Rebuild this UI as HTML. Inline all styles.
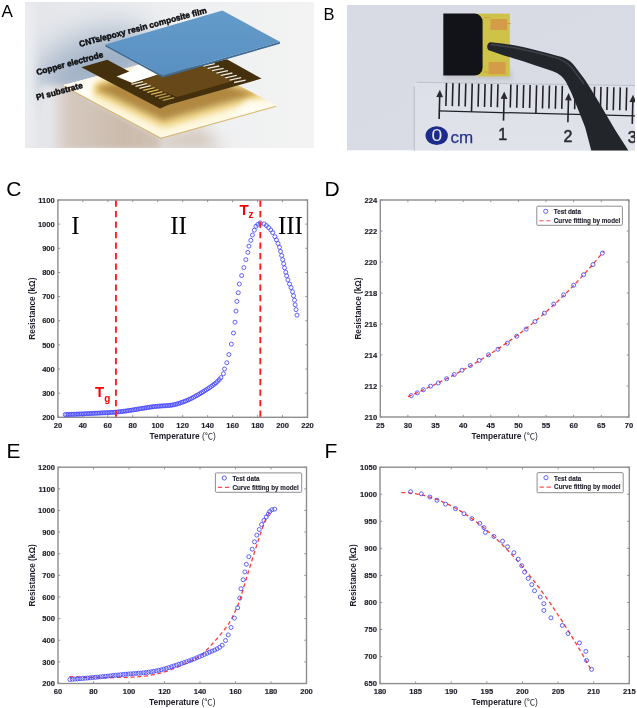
<!DOCTYPE html>
<html><head><meta charset="utf-8"><title>Figure</title>
<style>
html,body{margin:0;padding:0;background:#fff;}
#fig{position:relative;width:637px;height:708px;overflow:hidden;background:#fff;}
svg{position:absolute;left:0;top:0;}
.tl{font-family:"Liberation Sans",Arial,sans-serif;font-weight:bold;font-size:7.6px;fill:#1e1e2a;stroke:#1e1e2a;stroke-width:0.15px;}
.ar{font-family:"Liberation Sans",Arial,sans-serif;font-weight:bold;font-size:8.2px;fill:#1e1e2a;}
.at{font-family:"Liberation Sans",Arial,sans-serif;font-weight:bold;font-size:8.4px;fill:#1e1e2a;}
.deg{font-family:"Liberation Sans","Noto Sans CJK SC",sans-serif;font-weight:normal;}
.lg{font-family:"Liberation Sans",Arial,sans-serif;font-weight:bold;font-size:6.3px;fill:#1e1e2a;stroke:#1e1e2a;stroke-width:0.12px;}
.fit{fill:none;stroke:#ff3a3a;stroke-width:1.3;stroke-dasharray:4 2.8;}
.vl{fill:none;stroke:#ff1e1e;stroke-width:1.9;stroke-dasharray:6.2 4.3;}
.tz{font-family:"Liberation Sans",Arial,sans-serif;font-weight:bold;font-size:15px;fill:#ff0000;}
.tzs{font-size:10px;}
.rn{font-family:"Liberation Serif","Times New Roman",serif;font-size:25px;fill:#000;}
.la{font-family:"Liberation Sans",Arial,sans-serif;font-weight:bold;font-size:8.4px;fill:#0d0d10;stroke:#0d0d10;stroke-width:0.45px;}
.rz{font-family:"Liberation Sans",Arial,sans-serif;font-size:15.8px;fill:#e4e6f2;}
.rc{font-family:"Liberation Sans",Arial,sans-serif;font-size:17px;fill:#28338f;stroke:#28338f;stroke-width:0.25px;}
.rn1{font-family:"Liberation Sans",Arial,sans-serif;font-size:16px;fill:#2a2a2e;stroke:#2a2a2e;stroke-width:0.5px;}
.pl{font-family:"Liberation Sans",Arial,sans-serif;font-size:21px;fill:#000;}
</style></head><body>
<div id="fig">
<svg width="637" height="708" viewBox="0 0 637 708">
<defs>
<clipPath id="clipA"><rect x="25" y="2" width="289" height="146"/></clipPath>
<clipPath id="clipSub"><polygon points="63.9,85.1 178.9,54 276,105 161,137"/></clipPath>
<filter id="blA8" x="-50%" y="-50%" width="200%" height="200%"><feGaussianBlur stdDeviation="8"/></filter>
<filter id="blA5" x="-50%" y="-50%" width="200%" height="200%"><feGaussianBlur stdDeviation="5"/></filter>
<filter id="blA3" x="-50%" y="-50%" width="200%" height="200%"><feGaussianBlur stdDeviation="3"/></filter>
<filter id="blA14" x="-50%" y="-50%" width="200%" height="200%"><feGaussianBlur stdDeviation="14"/></filter>
<linearGradient id="gBlue" x1="0" y1="0" x2="0" y2="1" gradientUnits="objectBoundingBox">
<stop offset="0" stop-color="#639bca"/><stop offset="1" stop-color="#5990c2"/></linearGradient>
<linearGradient id="gBg" x1="0" y1="0" x2="1" y2="0">
<stop offset="0" stop-color="#e2e4e9"/><stop offset="0.45" stop-color="#eceef0"/><stop offset="1" stop-color="#f3f3f3"/></linearGradient>
</defs>
<g clip-path="url(#clipA)">
<rect x="25" y="2" width="289" height="146" fill="url(#gBg)"/>
<!-- blue-grey shade left-middle -->
<ellipse cx="92" cy="62" rx="62" ry="30" fill="#aebccd" filter="url(#blA14)" transform="rotate(-22 92 62)"/>
<polygon points="52,86 80,60 120,45 178,40 178,56 64,86" fill="#9fb0c5" filter="url(#blA8)"/>
<rect x="20" y="0" width="14" height="150" fill="#eceef1" filter="url(#blA5)"/>
<!-- tan shade below substrate -->
<linearGradient id="gTan" x1="50" y1="0" x2="170" y2="0" gradientUnits="userSpaceOnUse">
<stop offset="0" stop-color="#e6e6ea"/><stop offset="0.15" stop-color="#d5c9bf"/><stop offset="0.6" stop-color="#cbbbac"/><stop offset="1" stop-color="#d0c1b4"/></linearGradient>
<path d="M63.9 85.1 L161 137 L161 150 L40 150 L40 86 Z" fill="url(#gTan)" filter="url(#blA3)"/>
<path d="M158 137 L200 126 L225 150 L156 150 Z" fill="#d3c7bc" filter="url(#blA8)"/>
<!-- PI substrate -->
<polygon points="63.9,85.1 178.9,54 276,105 161,137" fill="#fdf8e9"/>
<g clip-path="url(#clipSub)">
<polygon points="92,88 168,64 260,94 165,123" fill="none" stroke="#eecd68" stroke-width="9" filter="url(#blA5)"/>
<polygon points="94,88 168,66 257,94 163,121" fill="#b08841" filter="url(#blA3)"/>
<path d="M63.9 85.1 L161 137 L276 105" fill="none" stroke="#fff2c0" stroke-width="4" filter="url(#blA3)"/>
<polygon points="58,84 96,75 90,104 62,90" fill="#fffef8" filter="url(#blA3)"/>
<path d="M75 96 L160 136 L272 105" fill="none" stroke="#fffae8" stroke-width="5" filter="url(#blA3)"/>
<path d="M63.9 85.1 L178.9 54" fill="none" stroke="#fffaf0" stroke-width="5" filter="url(#blA3)"/>
<polygon points="248,100 280,104 250,122 225,124" fill="#fffcf0" filter="url(#blA3)"/>
</g>
<path d="M63.9 85.1 L161 137 L276 105" fill="none" stroke="#fffbe6" stroke-width="1"/>
<path d="M63.9 86.4 L161 138.4 L276 106.3" fill="none" stroke="#d9b667" stroke-width="1"/>
<!-- copper electrode -->
<polygon points="116.5,76.4 129.1,71.4 138.5,64.3 157.7,74.7 131.9,83" fill="#fefefc"/>
<polygon points="81.3,67.3 107.2,59.7 129.2,71.5 116.5,76.4 131.9,83 157.7,74.7 226.9,59.2 261.5,78.6 249.9,81.9 168,105 160,108.5" fill="#44300c"/>
<polygon points="140,82 157.7,74.7 203,65 233,81 177,97" fill="#674818"/>
<path d="M131.6 84.4l11.3-2.8M135.5 86.4l11.3-2.8M139.4 88.4l11.3-2.8" stroke="#eee6d0" stroke-width="1.3"/>
<path d="M143.3 90.4l11.3-2.8M147.2 92.4l11.3-2.8M151.1 94.4l11.3-2.8" stroke="#dcbc58" stroke-width="1.3"/>
<path d="M155 96.4l11.3-2.8M158.9 98.4l11.3-2.8M162.8 100.4l11.3-2.8" stroke="#b99a48" stroke-width="1.3"/>
<path d="M203.2 66l11.6-2.4M207.6 68.4l11.6-2.4M212 70.7l11.6-2.4M216.4 73.1l11.6-2.4M220.8 75.4l11.6-2.4M225.2 77.8l11.6-2.4M229.6 80.1l11.6-2.4M234 82.5l11.6-2.4" stroke="#e9e5dc" stroke-width="1.3"/>
<!-- blue plate -->
<polygon points="105.5,44.5 162.8,75.4 279.9,41.8 279.9,43.8 162.8,77.6 105.5,46.5" fill="#3f6d97"/>
<polygon points="105.5,44.5 222.4,10.4 279.9,41.8 162.8,75.4" fill="url(#gBlue)"/>
<!-- labels -->
<text transform="translate(80.1 46.9) rotate(-15)" class="la">CNTs/epoxy resin composite film</text>
<text transform="translate(37.2 75.2) rotate(-15.3)" class="la">Copper electrode</text>
<text transform="translate(37 100.3) rotate(-15)" class="la">PI substrate</text>
</g>

<defs>
<clipPath id="clipB"><rect x="347" y="5" width="288" height="145.5"/></clipPath>
<filter id="blB2" x="-50%" y="-50%" width="200%" height="200%"><feGaussianBlur stdDeviation="2"/></filter>
<filter id="blB1" x="-50%" y="-50%" width="200%" height="200%"><feGaussianBlur stdDeviation="0.6"/></filter>
<filter id="blB6" x="-50%" y="-50%" width="200%" height="200%"><feGaussianBlur stdDeviation="6"/></filter>
<linearGradient id="gBbg" x1="0" y1="0" x2="1" y2="1">
<stop offset="0" stop-color="#d8dbe4"/><stop offset="1" stop-color="#d9dce5"/></linearGradient>
<linearGradient id="gRuler" x1="0" y1="0" x2="0" y2="1">
<stop offset="0" stop-color="#dde0e8"/><stop offset="1" stop-color="#e0e3ea"/></linearGradient>
</defs>
<g clip-path="url(#clipB)">
<rect x="347" y="5" width="288" height="145.5" fill="url(#gBbg)"/>
<!-- shadow under sensor -->
<rect x="444" y="70" width="68" height="10" fill="#c4c6cc" filter="url(#blB2)"/>
<!-- yellow PI -->
<rect x="478" y="13.6" width="31.8" height="62.8" fill="#cfc248"/>
<path d="M490.4 19.1h16.6v11h-16.6z M488.6 62.1h17v12.1h-17z" fill="#d59c48"/>
<path d="M484 17.5h6.4M507 23.5h3.8M483 72h6" stroke="#d29a4a" stroke-width="0.9" fill="none"/>
<!-- black film -->
<path d="M443.3 13.6h31.3a8 8 0 0 1 8 8v46a8 8 0 0 1 -8 8h-31.3z" fill="#111318"/>
<!-- ruler -->
<path d="M416.5 82.3 L635 85.5 L635 152 L413.8 152 L413.8 85 Q413.8 82.3 416.5 82.3 Z" fill="url(#gRuler)"/>
<path d="M416.5 82.3 L635 85.5" stroke="#b8bac0" stroke-width="0.8" fill="none"/>
<path d="M414.3 86 L414.3 152" stroke="#c4c6cc" stroke-width="1.4" fill="none"/>
<g transform="rotate(1.45 440 100)" stroke="#222226" stroke-width="1.6" fill="none">
<path d="M439.60 96.5V119M446.04 82.8V105.8M452.48 82.8V105.8M458.92 82.8V105.8M465.36 82.8V105.8M471.80 82.8V111M478.24 82.8V105.8M484.68 82.8V105.8M491.12 82.8V105.8M497.56 82.8V105.8M504.00 96.5V119M510.44 82.8V105.8M516.88 82.8V105.8M523.32 82.8V105.8M529.76 82.8V105.8M536.20 82.8V111M542.64 82.8V105.8M549.08 82.8V105.8M555.52 82.8V105.8M561.96 82.8V105.8M568.40 96.5V119M574.84 82.8V105.8M581.28 82.8V105.8M587.72 82.8V105.8M594.16 82.8V105.8M600.60 82.8V111M607.04 82.8V105.8M613.48 82.8V105.8M619.92 82.8V105.8M626.36 82.8V105.8M632.80 96.5V119"/>
<path d="M439.60 89.8l-3.4 7.4h6.8zM504.00 89.8l-3.4 7.4h6.8zM568.40 89.8l-3.4 7.4h6.8zM632.80 89.8l-3.4 7.4h6.8z" fill="#2a2a2e" stroke="none"/>
<path d="M439.1 111 L640 111" stroke-width="1.3"/>
</g>
<ellipse cx="436.7" cy="135.6" rx="11.2" ry="9.3" fill="#1d2c8c"/>
<text transform="translate(436.9 141.2) scale(1.22 1)" text-anchor="middle" class="rz">0</text>
<text x="450.4" y="143" class="rc">cm</text>
<text x="502.8" y="140.3" text-anchor="middle" class="rn1">1</text>
<text x="568" y="142.2" text-anchor="middle" class="rn1">2</text>
<text x="632.2" y="143.2" text-anchor="middle" class="rn1">3</text>
<!-- tweezers -->
<path d="M487.2 46.6 Q487.4 42.4 491 42.3 L504.1 43.7 L514.2 45.3 L524.2 47.3 L534.3 49.8 L548 53.3 L556 55.4 L562 57 Q566 58.5 569.8 60.9 Q572.5 63 574.6 66 L578 70.4 L584.6 79.2 L590.1 87.8 L595.7 97.1 L600.6 105 L605.3 113.2 L615.8 131.1 L627.4 149 L628.6 151 L591.4 151 L585.2 127.5 L579.9 113.9 L577.7 108.5 L574.6 100.7 L571.3 92.7 L568 86 Q566.2 81.8 563.8 78.8 Q561 75.3 557.4 73.2 Q553.2 71 547.8 69.5 L534.1 64.9 L524 61.4 L514 58.4 L503.9 55.4 L491 51 Q487 50.2 487.2 46.6 Z" fill="#22252a"/>
<path d="M491 44.4 L514 47.6 L534 52 L556 57.8 Q566 61 572 68 L584 84" stroke="#3d4046" stroke-width="1.6" fill="none" filter="url(#blB1)"/>
</g>

<text x="1.4" y="16.5" class="pl" style="font-size:17px">A</text>
<text x="323.4" y="19.6" class="pl" style="font-size:16.5px">B</text>
<text x="6.2" y="196" class="pl">C</text>
<text x="324.6" y="195.8" class="pl">D</text>
<text x="6.6" y="458.2" class="pl">E</text>
<text x="324.6" y="457.9" class="pl">F</text>
<path d="M57.9 417.3v-2.2M57.9 200v2.2M82.86 417.3v-2.2M82.86 200v2.2M107.82 417.3v-2.2M107.82 200v2.2M132.78 417.3v-2.2M132.78 200v2.2M157.74 417.3v-2.2M157.74 200v2.2M182.7 417.3v-2.2M182.7 200v2.2M207.66 417.3v-2.2M207.66 200v2.2M232.62 417.3v-2.2M232.62 200v2.2M257.58 417.3v-2.2M257.58 200v2.2M282.54 417.3v-2.2M282.54 200v2.2M307.5 417.3v-2.2M307.5 200v2.2M57.9 417.3h2.2M307.5 417.3h-2.2M57.9 393.16h2.2M307.5 393.16h-2.2M57.9 369.01h2.2M307.5 369.01h-2.2M57.9 344.87h2.2M307.5 344.87h-2.2M57.9 320.72h2.2M307.5 320.72h-2.2M57.9 296.58h2.2M307.5 296.58h-2.2M57.9 272.43h2.2M307.5 272.43h-2.2M57.9 248.29h2.2M307.5 248.29h-2.2M57.9 224.14h2.2M307.5 224.14h-2.2M57.9 200h2.2M307.5 200h-2.2" stroke="#7a7a7a" stroke-width="0.8" fill="none"/>
<rect x="57.9" y="200" width="249.6" height="217.3" fill="none" stroke="#8e8e8e" stroke-width="1.4"/>
<text x="57.9" y="427.9" text-anchor="middle" class="tl">20</text>
<text x="82.86" y="427.9" text-anchor="middle" class="tl">40</text>
<text x="107.82" y="427.9" text-anchor="middle" class="tl">60</text>
<text x="132.78" y="427.9" text-anchor="middle" class="tl">80</text>
<text x="157.74" y="427.9" text-anchor="middle" class="tl">100</text>
<text x="182.7" y="427.9" text-anchor="middle" class="tl">120</text>
<text x="207.66" y="427.9" text-anchor="middle" class="tl">140</text>
<text x="232.62" y="427.9" text-anchor="middle" class="tl">160</text>
<text x="257.58" y="427.9" text-anchor="middle" class="tl">180</text>
<text x="282.54" y="427.9" text-anchor="middle" class="tl">200</text>
<text x="307.5" y="427.9" text-anchor="middle" class="tl">220</text>
<text x="54.8" y="420" text-anchor="end" class="tl">200</text>
<text x="54.8" y="395.86" text-anchor="end" class="tl">300</text>
<text x="54.8" y="371.71" text-anchor="end" class="tl">400</text>
<text x="54.8" y="347.57" text-anchor="end" class="tl">500</text>
<text x="54.8" y="323.42" text-anchor="end" class="tl">600</text>
<text x="54.8" y="299.28" text-anchor="end" class="tl">700</text>
<text x="54.8" y="275.13" text-anchor="end" class="tl">800</text>
<text x="54.8" y="250.99" text-anchor="end" class="tl">900</text>
<text x="54.8" y="226.84" text-anchor="end" class="tl">1000</text>
<text x="54.8" y="202.7" text-anchor="end" class="tl">1100</text>
<text x="182.7" y="438.8" text-anchor="middle" class="at">Temperature<tspan class="deg"> (℃)</tspan></text>
<text transform="translate(35.2 308.65) rotate(-90)" text-anchor="middle" class="ar">Resistance (kΩ)</text>
<path d="M63.14 414.55a2.0 2.0 0 1 0 4 0a2.0 2.0 0 1 0 -4 0M64.76 414.5a2.0 2.0 0 1 0 4 0a2.0 2.0 0 1 0 -4 0M66.38 414.45a2.0 2.0 0 1 0 4 0a2.0 2.0 0 1 0 -4 0M68.01 414.4a2.0 2.0 0 1 0 4 0a2.0 2.0 0 1 0 -4 0M69.63 414.35a2.0 2.0 0 1 0 4 0a2.0 2.0 0 1 0 -4 0M71.25 414.29a2.0 2.0 0 1 0 4 0a2.0 2.0 0 1 0 -4 0M72.87 414.23a2.0 2.0 0 1 0 4 0a2.0 2.0 0 1 0 -4 0M74.5 414.17a2.0 2.0 0 1 0 4 0a2.0 2.0 0 1 0 -4 0M76.12 414.1a2.0 2.0 0 1 0 4 0a2.0 2.0 0 1 0 -4 0M77.74 414.03a2.0 2.0 0 1 0 4 0a2.0 2.0 0 1 0 -4 0M79.36 413.95a2.0 2.0 0 1 0 4 0a2.0 2.0 0 1 0 -4 0M80.98 413.87a2.0 2.0 0 1 0 4 0a2.0 2.0 0 1 0 -4 0M82.61 413.78a2.0 2.0 0 1 0 4 0a2.0 2.0 0 1 0 -4 0M84.23 413.7a2.0 2.0 0 1 0 4 0a2.0 2.0 0 1 0 -4 0M85.85 413.62a2.0 2.0 0 1 0 4 0a2.0 2.0 0 1 0 -4 0M87.47 413.54a2.0 2.0 0 1 0 4 0a2.0 2.0 0 1 0 -4 0M89.1 413.46a2.0 2.0 0 1 0 4 0a2.0 2.0 0 1 0 -4 0M90.72 413.38a2.0 2.0 0 1 0 4 0a2.0 2.0 0 1 0 -4 0M92.34 413.31a2.0 2.0 0 1 0 4 0a2.0 2.0 0 1 0 -4 0M93.96 413.23a2.0 2.0 0 1 0 4 0a2.0 2.0 0 1 0 -4 0M95.59 413.15a2.0 2.0 0 1 0 4 0a2.0 2.0 0 1 0 -4 0M97.21 413.07a2.0 2.0 0 1 0 4 0a2.0 2.0 0 1 0 -4 0M98.83 412.99a2.0 2.0 0 1 0 4 0a2.0 2.0 0 1 0 -4 0M100.45 412.91a2.0 2.0 0 1 0 4 0a2.0 2.0 0 1 0 -4 0M102.08 412.83a2.0 2.0 0 1 0 4 0a2.0 2.0 0 1 0 -4 0M103.7 412.75a2.0 2.0 0 1 0 4 0a2.0 2.0 0 1 0 -4 0M105.32 412.68a2.0 2.0 0 1 0 4 0a2.0 2.0 0 1 0 -4 0M106.94 412.6a2.0 2.0 0 1 0 4 0a2.0 2.0 0 1 0 -4 0M108.57 412.51a2.0 2.0 0 1 0 4 0a2.0 2.0 0 1 0 -4 0M110.19 412.41a2.0 2.0 0 1 0 4 0a2.0 2.0 0 1 0 -4 0M111.81 412.31a2.0 2.0 0 1 0 4 0a2.0 2.0 0 1 0 -4 0M113.43 412.19a2.0 2.0 0 1 0 4 0a2.0 2.0 0 1 0 -4 0M115.06 412.04a2.0 2.0 0 1 0 4 0a2.0 2.0 0 1 0 -4 0M116.68 411.88a2.0 2.0 0 1 0 4 0a2.0 2.0 0 1 0 -4 0M118.3 411.69a2.0 2.0 0 1 0 4 0a2.0 2.0 0 1 0 -4 0M119.92 411.5a2.0 2.0 0 1 0 4 0a2.0 2.0 0 1 0 -4 0M121.54 411.29a2.0 2.0 0 1 0 4 0a2.0 2.0 0 1 0 -4 0M123.17 411.08a2.0 2.0 0 1 0 4 0a2.0 2.0 0 1 0 -4 0M124.79 410.87a2.0 2.0 0 1 0 4 0a2.0 2.0 0 1 0 -4 0M126.41 410.64a2.0 2.0 0 1 0 4 0a2.0 2.0 0 1 0 -4 0M128.03 410.39a2.0 2.0 0 1 0 4 0a2.0 2.0 0 1 0 -4 0M129.66 410.14a2.0 2.0 0 1 0 4 0a2.0 2.0 0 1 0 -4 0M131.28 409.87a2.0 2.0 0 1 0 4 0a2.0 2.0 0 1 0 -4 0M132.9 409.59a2.0 2.0 0 1 0 4 0a2.0 2.0 0 1 0 -4 0M134.52 409.32a2.0 2.0 0 1 0 4 0a2.0 2.0 0 1 0 -4 0M136.15 409.05a2.0 2.0 0 1 0 4 0a2.0 2.0 0 1 0 -4 0M137.77 408.79a2.0 2.0 0 1 0 4 0a2.0 2.0 0 1 0 -4 0M139.39 408.54a2.0 2.0 0 1 0 4 0a2.0 2.0 0 1 0 -4 0M141.01 408.27a2.0 2.0 0 1 0 4 0a2.0 2.0 0 1 0 -4 0M142.64 408.01a2.0 2.0 0 1 0 4 0a2.0 2.0 0 1 0 -4 0M144.26 407.74a2.0 2.0 0 1 0 4 0a2.0 2.0 0 1 0 -4 0M145.88 407.49a2.0 2.0 0 1 0 4 0a2.0 2.0 0 1 0 -4 0M147.5 407.24a2.0 2.0 0 1 0 4 0a2.0 2.0 0 1 0 -4 0M149.13 407a2.0 2.0 0 1 0 4 0a2.0 2.0 0 1 0 -4 0M150.75 406.79a2.0 2.0 0 1 0 4 0a2.0 2.0 0 1 0 -4 0M152.37 406.6a2.0 2.0 0 1 0 4 0a2.0 2.0 0 1 0 -4 0M153.99 406.43a2.0 2.0 0 1 0 4 0a2.0 2.0 0 1 0 -4 0M155.62 406.27a2.0 2.0 0 1 0 4 0a2.0 2.0 0 1 0 -4 0M157.24 406.13a2.0 2.0 0 1 0 4 0a2.0 2.0 0 1 0 -4 0M158.86 406a2.0 2.0 0 1 0 4 0a2.0 2.0 0 1 0 -4 0M160.48 405.89a2.0 2.0 0 1 0 4 0a2.0 2.0 0 1 0 -4 0M162.1 405.8a2.0 2.0 0 1 0 4 0a2.0 2.0 0 1 0 -4 0M163.73 405.72a2.0 2.0 0 1 0 4 0a2.0 2.0 0 1 0 -4 0M165.35 405.62a2.0 2.0 0 1 0 4 0a2.0 2.0 0 1 0 -4 0M166.97 405.48a2.0 2.0 0 1 0 4 0a2.0 2.0 0 1 0 -4 0M168.59 405.29a2.0 2.0 0 1 0 4 0a2.0 2.0 0 1 0 -4 0M170.22 405.05a2.0 2.0 0 1 0 4 0a2.0 2.0 0 1 0 -4 0M171.84 404.77a2.0 2.0 0 1 0 4 0a2.0 2.0 0 1 0 -4 0M173.46 404.41a2.0 2.0 0 1 0 4 0a2.0 2.0 0 1 0 -4 0M175.08 403.96a2.0 2.0 0 1 0 4 0a2.0 2.0 0 1 0 -4 0M176.71 403.45a2.0 2.0 0 1 0 4 0a2.0 2.0 0 1 0 -4 0M178.33 402.89a2.0 2.0 0 1 0 4 0a2.0 2.0 0 1 0 -4 0M179.95 402.31a2.0 2.0 0 1 0 4 0a2.0 2.0 0 1 0 -4 0M181.57 401.74a2.0 2.0 0 1 0 4 0a2.0 2.0 0 1 0 -4 0M183.2 401.12a2.0 2.0 0 1 0 4 0a2.0 2.0 0 1 0 -4 0M184.82 400.47a2.0 2.0 0 1 0 4 0a2.0 2.0 0 1 0 -4 0M186.44 399.78a2.0 2.0 0 1 0 4 0a2.0 2.0 0 1 0 -4 0M188.06 399.05a2.0 2.0 0 1 0 4 0a2.0 2.0 0 1 0 -4 0M189.69 398.26a2.0 2.0 0 1 0 4 0a2.0 2.0 0 1 0 -4 0M191.31 397.41a2.0 2.0 0 1 0 4 0a2.0 2.0 0 1 0 -4 0M192.93 396.54a2.0 2.0 0 1 0 4 0a2.0 2.0 0 1 0 -4 0M194.55 395.64a2.0 2.0 0 1 0 4 0a2.0 2.0 0 1 0 -4 0M196.18 394.73a2.0 2.0 0 1 0 4 0a2.0 2.0 0 1 0 -4 0M197.8 393.78a2.0 2.0 0 1 0 4 0a2.0 2.0 0 1 0 -4 0M199.42 392.8a2.0 2.0 0 1 0 4 0a2.0 2.0 0 1 0 -4 0M201.04 391.81a2.0 2.0 0 1 0 4 0a2.0 2.0 0 1 0 -4 0M202.66 390.79a2.0 2.0 0 1 0 4 0a2.0 2.0 0 1 0 -4 0M204.29 389.77a2.0 2.0 0 1 0 4 0a2.0 2.0 0 1 0 -4 0M205.91 388.71a2.0 2.0 0 1 0 4 0a2.0 2.0 0 1 0 -4 0M207.53 387.62a2.0 2.0 0 1 0 4 0a2.0 2.0 0 1 0 -4 0M209.15 386.47a2.0 2.0 0 1 0 4 0a2.0 2.0 0 1 0 -4 0M210.78 385.32a2.0 2.0 0 1 0 4 0a2.0 2.0 0 1 0 -4 0M212.4 384.11a2.0 2.0 0 1 0 4 0a2.0 2.0 0 1 0 -4 0M214.02 382.81a2.0 2.0 0 1 0 4 0a2.0 2.0 0 1 0 -4 0M215.64 381.35a2.0 2.0 0 1 0 4 0a2.0 2.0 0 1 0 -4 0M217.27 379.64a2.0 2.0 0 1 0 4 0a2.0 2.0 0 1 0 -4 0M218.89 377.64a2.0 2.0 0 1 0 4 0a2.0 2.0 0 1 0 -4 0M221.38 373.74a2.0 2.0 0 1 0 4 0a2.0 2.0 0 1 0 -4 0M222.51 369.01a2.0 2.0 0 1 0 4 0a2.0 2.0 0 1 0 -4 0M224.75 362.73a2.0 2.0 0 1 0 4 0a2.0 2.0 0 1 0 -4 0M226.88 354.52a2.0 2.0 0 1 0 4 0a2.0 2.0 0 1 0 -4 0M229.37 344.14a2.0 2.0 0 1 0 4 0a2.0 2.0 0 1 0 -4 0M231.49 333.04a2.0 2.0 0 1 0 4 0a2.0 2.0 0 1 0 -4 0M232.99 322.17a2.0 2.0 0 1 0 4 0a2.0 2.0 0 1 0 -4 0M233.99 311.06a2.0 2.0 0 1 0 4 0a2.0 2.0 0 1 0 -4 0M234.86 301.41a2.0 2.0 0 1 0 4 0a2.0 2.0 0 1 0 -4 0M236.24 292.71a2.0 2.0 0 1 0 4 0a2.0 2.0 0 1 0 -4 0M237.36 284.02a2.0 2.0 0 1 0 4 0a2.0 2.0 0 1 0 -4 0M239.61 275.57a2.0 2.0 0 1 0 4 0a2.0 2.0 0 1 0 -4 0M241.85 267.6a2.0 2.0 0 1 0 4 0a2.0 2.0 0 1 0 -4 0M243.85 259.64a2.0 2.0 0 1 0 4 0a2.0 2.0 0 1 0 -4 0M245.85 252.39a2.0 2.0 0 1 0 4 0a2.0 2.0 0 1 0 -4 0M246.97 246.12a2.0 2.0 0 1 0 4 0a2.0 2.0 0 1 0 -4 0M248.84 240.32a2.0 2.0 0 1 0 4 0a2.0 2.0 0 1 0 -4 0M250.46 235.01a2.0 2.0 0 1 0 4 0a2.0 2.0 0 1 0 -4 0M252.34 230.18a2.0 2.0 0 1 0 4 0a2.0 2.0 0 1 0 -4 0M253.96 226.32a2.0 2.0 0 1 0 4 0a2.0 2.0 0 1 0 -4 0M255.83 224.39a2.0 2.0 0 1 0 4 0a2.0 2.0 0 1 0 -4 0M258.2 222.94a2.0 2.0 0 1 0 4 0a2.0 2.0 0 1 0 -4 0M262.07 223.9a2.0 2.0 0 1 0 4 0a2.0 2.0 0 1 0 -4 0M264.44 225.59a2.0 2.0 0 1 0 4 0a2.0 2.0 0 1 0 -4 0M266.56 227.52a2.0 2.0 0 1 0 4 0a2.0 2.0 0 1 0 -4 0M268.81 229.94a2.0 2.0 0 1 0 4 0a2.0 2.0 0 1 0 -4 0M270.68 232.59a2.0 2.0 0 1 0 4 0a2.0 2.0 0 1 0 -4 0M272.93 236.7a2.0 2.0 0 1 0 4 0a2.0 2.0 0 1 0 -4 0M274.42 239.84a2.0 2.0 0 1 0 4 0a2.0 2.0 0 1 0 -4 0M276.05 243.46a2.0 2.0 0 1 0 4 0a2.0 2.0 0 1 0 -4 0M277.54 247.32a2.0 2.0 0 1 0 4 0a2.0 2.0 0 1 0 -4 0M278.54 251.43a2.0 2.0 0 1 0 4 0a2.0 2.0 0 1 0 -4 0M279.67 255.53a2.0 2.0 0 1 0 4 0a2.0 2.0 0 1 0 -4 0M280.66 259.64a2.0 2.0 0 1 0 4 0a2.0 2.0 0 1 0 -4 0M281.66 263.74a2.0 2.0 0 1 0 4 0a2.0 2.0 0 1 0 -4 0M282.54 267.85a2.0 2.0 0 1 0 4 0a2.0 2.0 0 1 0 -4 0M283.78 272.19a2.0 2.0 0 1 0 4 0a2.0 2.0 0 1 0 -4 0M284.66 275.81a2.0 2.0 0 1 0 4 0a2.0 2.0 0 1 0 -4 0M285.91 279.92a2.0 2.0 0 1 0 4 0a2.0 2.0 0 1 0 -4 0M287.53 284.02a2.0 2.0 0 1 0 4 0a2.0 2.0 0 1 0 -4 0M289.03 287.64a2.0 2.0 0 1 0 4 0a2.0 2.0 0 1 0 -4 0M290.52 291.75a2.0 2.0 0 1 0 4 0a2.0 2.0 0 1 0 -4 0M291.52 295.85a2.0 2.0 0 1 0 4 0a2.0 2.0 0 1 0 -4 0M292.52 300.2a2.0 2.0 0 1 0 4 0a2.0 2.0 0 1 0 -4 0M293.14 304.79a2.0 2.0 0 1 0 4 0a2.0 2.0 0 1 0 -4 0M294.02 309.62a2.0 2.0 0 1 0 4 0a2.0 2.0 0 1 0 -4 0M295.02 315.17a2.0 2.0 0 1 0 4 0a2.0 2.0 0 1 0 -4 0" fill="none" stroke="#4646ff" stroke-width="0.85"/>
<path d="M115.93 200.5V417.3 M260.33 200.5V417.3" class="vl"/>
<text x="95" y="397" class="tz">T<tspan dy="4.6" class="tzs">g</tspan></text>
<text x="239.4" y="214.8" class="tz">T<tspan dy="3.6" class="tzs">z</tspan></text>
<text x="75.5" y="233.6" class="rn" text-anchor="middle">I</text>
<text x="178.5" y="233.6" class="rn" text-anchor="middle">II</text>
<text x="290.4" y="233.6" class="rn" text-anchor="middle">III</text>
<path d="M380.3 417v-2.2M380.3 200v2.2M407.92 417v-2.2M407.92 200v2.2M435.54 417v-2.2M435.54 200v2.2M463.17 417v-2.2M463.17 200v2.2M490.79 417v-2.2M490.79 200v2.2M518.41 417v-2.2M518.41 200v2.2M546.03 417v-2.2M546.03 200v2.2M573.66 417v-2.2M573.66 200v2.2M601.28 417v-2.2M601.28 200v2.2M628.9 417v-2.2M628.9 200v2.2M380.3 417h2.2M628.9 417h-2.2M380.3 386h2.2M628.9 386h-2.2M380.3 355h2.2M628.9 355h-2.2M380.3 324h2.2M628.9 324h-2.2M380.3 293h2.2M628.9 293h-2.2M380.3 262h2.2M628.9 262h-2.2M380.3 231h2.2M628.9 231h-2.2M380.3 200h2.2M628.9 200h-2.2" stroke="#7a7a7a" stroke-width="0.8" fill="none"/>
<rect x="380.3" y="200" width="248.6" height="217" fill="none" stroke="#8e8e8e" stroke-width="1.4"/>
<text x="380.3" y="427.6" text-anchor="middle" class="tl">25</text>
<text x="407.92" y="427.6" text-anchor="middle" class="tl">30</text>
<text x="435.54" y="427.6" text-anchor="middle" class="tl">35</text>
<text x="463.17" y="427.6" text-anchor="middle" class="tl">40</text>
<text x="490.79" y="427.6" text-anchor="middle" class="tl">45</text>
<text x="518.41" y="427.6" text-anchor="middle" class="tl">50</text>
<text x="546.03" y="427.6" text-anchor="middle" class="tl">55</text>
<text x="573.66" y="427.6" text-anchor="middle" class="tl">60</text>
<text x="601.28" y="427.6" text-anchor="middle" class="tl">65</text>
<text x="628.9" y="427.6" text-anchor="middle" class="tl">70</text>
<text x="377.2" y="419.7" text-anchor="end" class="tl">210</text>
<text x="377.2" y="388.7" text-anchor="end" class="tl">212</text>
<text x="377.2" y="357.7" text-anchor="end" class="tl">214</text>
<text x="377.2" y="326.7" text-anchor="end" class="tl">216</text>
<text x="377.2" y="295.7" text-anchor="end" class="tl">218</text>
<text x="377.2" y="264.7" text-anchor="end" class="tl">220</text>
<text x="377.2" y="233.7" text-anchor="end" class="tl">222</text>
<text x="377.2" y="202.7" text-anchor="end" class="tl">224</text>
<text x="504.6" y="438.7" text-anchor="middle" class="at">Temperature<tspan class="deg"> (℃)</tspan></text>
<text transform="translate(360.5 308.5) rotate(-90)" text-anchor="middle" class="ar">Resistance (kΩ)</text>
<polyline points="407.92,396.77 411.25,395.31 414.57,393.84 417.89,392.35 421.22,390.84 424.54,389.32 427.87,387.78 431.19,386.21 434.51,384.63 437.84,383.02 441.16,381.39 444.49,379.73 447.81,378.05 451.13,376.35 454.46,374.61 457.78,372.85 461.11,371.06 464.43,369.23 467.75,367.38 471.08,365.49 474.4,363.57 477.73,361.61 481.05,359.62 484.37,357.59 487.7,355.52 491.02,353.42 494.35,351.27 497.67,349.08 501,346.85 504.32,344.58 507.64,342.26 510.97,339.89 514.29,337.48 517.62,335.02 520.94,332.52 524.26,329.96 527.59,327.35 530.91,324.69 534.24,321.98 537.56,319.22 540.88,316.4 544.21,313.52 547.53,310.59 550.86,307.59 554.18,304.54 557.5,301.43 560.83,298.26 564.15,295.02 567.48,291.73 570.8,288.36 574.12,284.93 577.45,281.44 580.77,277.88 584.1,274.25 587.42,270.55 590.74,266.77 594.07,262.93 597.39,259.01 600.72,255.02 604.04,250.96" class="fit"/>
<path d="M409.24 395.61a2.0 2.0 0 1 0 4 0a2.0 2.0 0 1 0 -4 0M415.31 392.82a2.0 2.0 0 1 0 4 0a2.0 2.0 0 1 0 -4 0M421.39 389.72a2.0 2.0 0 1 0 4 0a2.0 2.0 0 1 0 -4 0M428.57 386.15a2.0 2.0 0 1 0 4 0a2.0 2.0 0 1 0 -4 0M436.31 382.9a2.0 2.0 0 1 0 4 0a2.0 2.0 0 1 0 -4 0M444.59 378.72a2.0 2.0 0 1 0 4 0a2.0 2.0 0 1 0 -4 0M452.33 374.53a2.0 2.0 0 1 0 4 0a2.0 2.0 0 1 0 -4 0M460.06 370.19a2.0 2.0 0 1 0 4 0a2.0 2.0 0 1 0 -4 0M468.35 365.54a2.0 2.0 0 1 0 4 0a2.0 2.0 0 1 0 -4 0M477.19 360.42a2.0 2.0 0 1 0 4 0a2.0 2.0 0 1 0 -4 0M486.58 354.85a2.0 2.0 0 1 0 4 0a2.0 2.0 0 1 0 -4 0M495.97 349.26a2.0 2.0 0 1 0 4 0a2.0 2.0 0 1 0 -4 0M505.36 343.22a2.0 2.0 0 1 0 4 0a2.0 2.0 0 1 0 -4 0M514.75 336.24a2.0 2.0 0 1 0 4 0a2.0 2.0 0 1 0 -4 0M524.15 329.12a2.0 2.0 0 1 0 4 0a2.0 2.0 0 1 0 -4 0M532.98 321.52a2.0 2.0 0 1 0 4 0a2.0 2.0 0 1 0 -4 0M542.38 313.15a2.0 2.0 0 1 0 4 0a2.0 2.0 0 1 0 -4 0M551.77 304.01a2.0 2.0 0 1 0 4 0a2.0 2.0 0 1 0 -4 0M561.71 294.86a2.0 2.0 0 1 0 4 0a2.0 2.0 0 1 0 -4 0M571.66 285.25a2.0 2.0 0 1 0 4 0a2.0 2.0 0 1 0 -4 0M581.6 274.71a2.0 2.0 0 1 0 4 0a2.0 2.0 0 1 0 -4 0M590.99 264.63a2.0 2.0 0 1 0 4 0a2.0 2.0 0 1 0 -4 0M600.38 253.17a2.0 2.0 0 1 0 4 0a2.0 2.0 0 1 0 -4 0" fill="none" stroke="#4646ff" stroke-width="0.85"/>
<rect x="536.8" y="206.2" width="85.6" height="19.1" rx="1" fill="#fff" stroke="#8e8e8e" stroke-width="1"/>
<circle cx="545.7" cy="211.3" r="2.1" fill="none" stroke="#4646ff" stroke-width="0.85"/>
<path d="M539.3 220.7h4.2m2.8 0h4.2" stroke="#ff5050" stroke-width="1.1"/>
<text x="553.8" y="214.4" class="lg">Test data</text>
<text x="553.8" y="222.9" class="lg">Curve fitting by model</text>
<path d="M58 683.5v-2.2M58 467.2v2.2M93.5 683.5v-2.2M93.5 467.2v2.2M129 683.5v-2.2M129 467.2v2.2M164.5 683.5v-2.2M164.5 467.2v2.2M200 683.5v-2.2M200 467.2v2.2M235.5 683.5v-2.2M235.5 467.2v2.2M271 683.5v-2.2M271 467.2v2.2M306.5 683.5v-2.2M306.5 467.2v2.2M58 683.5h2.2M306.5 683.5h-2.2M58 661.87h2.2M306.5 661.87h-2.2M58 640.24h2.2M306.5 640.24h-2.2M58 618.61h2.2M306.5 618.61h-2.2M58 596.98h2.2M306.5 596.98h-2.2M58 575.35h2.2M306.5 575.35h-2.2M58 553.72h2.2M306.5 553.72h-2.2M58 532.09h2.2M306.5 532.09h-2.2M58 510.46h2.2M306.5 510.46h-2.2M58 488.83h2.2M306.5 488.83h-2.2M58 467.2h2.2M306.5 467.2h-2.2" stroke="#7a7a7a" stroke-width="0.8" fill="none"/>
<rect x="58" y="467.2" width="248.5" height="216.3" fill="none" stroke="#8e8e8e" stroke-width="1.4"/>
<text x="58" y="694.1" text-anchor="middle" class="tl">60</text>
<text x="93.5" y="694.1" text-anchor="middle" class="tl">80</text>
<text x="129" y="694.1" text-anchor="middle" class="tl">100</text>
<text x="164.5" y="694.1" text-anchor="middle" class="tl">120</text>
<text x="200" y="694.1" text-anchor="middle" class="tl">140</text>
<text x="235.5" y="694.1" text-anchor="middle" class="tl">160</text>
<text x="271" y="694.1" text-anchor="middle" class="tl">180</text>
<text x="306.5" y="694.1" text-anchor="middle" class="tl">200</text>
<text x="54.9" y="686.2" text-anchor="end" class="tl">200</text>
<text x="54.9" y="664.57" text-anchor="end" class="tl">300</text>
<text x="54.9" y="642.94" text-anchor="end" class="tl">400</text>
<text x="54.9" y="621.31" text-anchor="end" class="tl">500</text>
<text x="54.9" y="599.68" text-anchor="end" class="tl">600</text>
<text x="54.9" y="578.05" text-anchor="end" class="tl">700</text>
<text x="54.9" y="556.42" text-anchor="end" class="tl">800</text>
<text x="54.9" y="534.79" text-anchor="end" class="tl">900</text>
<text x="54.9" y="513.16" text-anchor="end" class="tl">1000</text>
<text x="54.9" y="491.53" text-anchor="end" class="tl">1100</text>
<text x="54.9" y="469.9" text-anchor="end" class="tl">1200</text>
<text x="182.25" y="705.2" text-anchor="middle" class="at">Temperature<tspan class="deg"> (℃)</tspan></text>
<text transform="translate(34.7 575.35) rotate(-90)" text-anchor="middle" class="ar">Resistance (kΩ)</text>
<polyline points="69.36,676.58 70.62,676.64 71.88,676.71 73.14,676.77 74.41,676.83 75.67,676.89 76.93,676.94 78.19,677 79.45,677.05 80.71,677.1 81.97,677.15 83.24,677.19 84.5,677.24 85.76,677.28 87.02,677.32 88.28,677.35 89.54,677.39 90.81,677.42 92.07,677.44 93.33,677.47 94.59,677.49 95.85,677.51 97.11,677.52 98.37,677.53 99.64,677.54 100.9,677.55 102.16,677.55 103.42,677.55 104.68,677.55 105.94,677.54 107.2,677.54 108.47,677.53 109.73,677.52 110.99,677.51 112.25,677.5 113.51,677.49 114.77,677.47 116.03,677.46 117.3,677.44 118.56,677.42 119.82,677.4 121.08,677.38 122.34,677.36 123.6,677.34 124.87,677.31 126.13,677.29 127.39,677.26 128.65,677.24 129.91,677.2 131.17,677.16 132.43,677.11 133.7,677.04 134.96,676.97 136.22,676.88 137.48,676.79 138.74,676.69 140,676.58 141.26,676.47 142.53,676.35 143.79,676.22 145.05,676.09 146.31,675.95 147.57,675.78 148.83,675.59 150.09,675.37 151.36,675.14 152.62,674.89 153.88,674.63 155.14,674.35 156.4,674.06 157.66,673.76 158.92,673.45 160.19,673.14 161.45,672.81 162.71,672.46 163.97,672.09 165.23,671.68 166.49,671.26 167.76,670.82 169.02,670.36 170.28,669.89 171.54,669.4 172.8,668.91 174.06,668.41 175.32,667.92 176.59,667.42 177.85,666.91 179.11,666.4 180.37,665.88 181.63,665.35 182.89,664.81 184.15,664.25 185.42,663.69 186.68,663.1 187.94,662.51 189.2,661.9 190.46,661.28 191.72,660.64 192.98,659.99 194.25,659.32 195.51,658.64 196.77,657.94 198.03,657.19 199.29,656.39 200.55,655.53 201.82,654.6 203.08,653.55 204.34,652.38 205.6,651.12 206.86,649.8 208.12,648.44 209.38,647.06 210.65,645.69 211.91,644.33 213.17,642.95 214.43,641.55 215.69,640.12 216.95,638.66 218.21,637.17 219.48,635.65 220.74,634.11 222,632.57 223.26,631.04 224.52,629.48 225.78,627.86 227.04,626.16 228.31,624.36 229.57,622.41 230.83,620.27 232.09,617.87 233.35,615.28 234.61,612.55 235.88,609.75 237.14,606.88 238.4,603.8 239.66,600.39 240.92,596.53 242.18,592.37 243.44,588.08 244.71,583.86 245.97,579.77 247.23,575.68 248.49,571.58 249.75,567.5 251.01,563.42 252.27,559.31 253.54,555.2 254.8,551.13 256.06,547.15 257.32,543.24 258.58,539.37 259.84,535.58 261.1,531.89 262.37,528.31 263.63,524.72 264.89,521.31 266.15,518.36 267.41,515.9 268.67,513.75 269.94,511.97" class="fit"/>
<path d="M67.89 679.48a2.0 2.0 0 1 0 4 0a2.0 2.0 0 1 0 -4 0M70.43 679.28a2.0 2.0 0 1 0 4 0a2.0 2.0 0 1 0 -4 0M72.97 679.09a2.0 2.0 0 1 0 4 0a2.0 2.0 0 1 0 -4 0M75.51 678.88a2.0 2.0 0 1 0 4 0a2.0 2.0 0 1 0 -4 0M78.05 678.67a2.0 2.0 0 1 0 4 0a2.0 2.0 0 1 0 -4 0M80.58 678.46a2.0 2.0 0 1 0 4 0a2.0 2.0 0 1 0 -4 0M83.12 678.24a2.0 2.0 0 1 0 4 0a2.0 2.0 0 1 0 -4 0M85.66 678.02a2.0 2.0 0 1 0 4 0a2.0 2.0 0 1 0 -4 0M88.2 677.8a2.0 2.0 0 1 0 4 0a2.0 2.0 0 1 0 -4 0M90.74 677.57a2.0 2.0 0 1 0 4 0a2.0 2.0 0 1 0 -4 0M93.28 677.33a2.0 2.0 0 1 0 4 0a2.0 2.0 0 1 0 -4 0M95.81 677.1a2.0 2.0 0 1 0 4 0a2.0 2.0 0 1 0 -4 0M98.35 676.86a2.0 2.0 0 1 0 4 0a2.0 2.0 0 1 0 -4 0M100.89 676.62a2.0 2.0 0 1 0 4 0a2.0 2.0 0 1 0 -4 0M103.43 676.36a2.0 2.0 0 1 0 4 0a2.0 2.0 0 1 0 -4 0M105.97 676.09a2.0 2.0 0 1 0 4 0a2.0 2.0 0 1 0 -4 0M108.5 675.82a2.0 2.0 0 1 0 4 0a2.0 2.0 0 1 0 -4 0M111.04 675.53a2.0 2.0 0 1 0 4 0a2.0 2.0 0 1 0 -4 0M113.58 675.25a2.0 2.0 0 1 0 4 0a2.0 2.0 0 1 0 -4 0M116.12 674.98a2.0 2.0 0 1 0 4 0a2.0 2.0 0 1 0 -4 0M118.66 674.71a2.0 2.0 0 1 0 4 0a2.0 2.0 0 1 0 -4 0M121.2 674.46a2.0 2.0 0 1 0 4 0a2.0 2.0 0 1 0 -4 0M123.73 674.23a2.0 2.0 0 1 0 4 0a2.0 2.0 0 1 0 -4 0M126.27 674.02a2.0 2.0 0 1 0 4 0a2.0 2.0 0 1 0 -4 0M128.81 673.83a2.0 2.0 0 1 0 4 0a2.0 2.0 0 1 0 -4 0M131.35 673.64a2.0 2.0 0 1 0 4 0a2.0 2.0 0 1 0 -4 0M133.89 673.46a2.0 2.0 0 1 0 4 0a2.0 2.0 0 1 0 -4 0M136.43 673.26a2.0 2.0 0 1 0 4 0a2.0 2.0 0 1 0 -4 0M138.96 673.05a2.0 2.0 0 1 0 4 0a2.0 2.0 0 1 0 -4 0M141.5 672.81a2.0 2.0 0 1 0 4 0a2.0 2.0 0 1 0 -4 0M144.04 672.53a2.0 2.0 0 1 0 4 0a2.0 2.0 0 1 0 -4 0M146.58 672.21a2.0 2.0 0 1 0 4 0a2.0 2.0 0 1 0 -4 0M149.12 671.82a2.0 2.0 0 1 0 4 0a2.0 2.0 0 1 0 -4 0M151.65 671.37a2.0 2.0 0 1 0 4 0a2.0 2.0 0 1 0 -4 0M154.19 670.87a2.0 2.0 0 1 0 4 0a2.0 2.0 0 1 0 -4 0M156.73 670.33a2.0 2.0 0 1 0 4 0a2.0 2.0 0 1 0 -4 0M159.27 669.76a2.0 2.0 0 1 0 4 0a2.0 2.0 0 1 0 -4 0M161.81 669.11a2.0 2.0 0 1 0 4 0a2.0 2.0 0 1 0 -4 0M164.35 668.38a2.0 2.0 0 1 0 4 0a2.0 2.0 0 1 0 -4 0M166.88 667.58a2.0 2.0 0 1 0 4 0a2.0 2.0 0 1 0 -4 0M169.42 666.75a2.0 2.0 0 1 0 4 0a2.0 2.0 0 1 0 -4 0M171.96 665.91a2.0 2.0 0 1 0 4 0a2.0 2.0 0 1 0 -4 0M174.5 665.08a2.0 2.0 0 1 0 4 0a2.0 2.0 0 1 0 -4 0M177.04 664.26a2.0 2.0 0 1 0 4 0a2.0 2.0 0 1 0 -4 0M179.58 663.43a2.0 2.0 0 1 0 4 0a2.0 2.0 0 1 0 -4 0M182.11 662.59a2.0 2.0 0 1 0 4 0a2.0 2.0 0 1 0 -4 0M184.65 661.72a2.0 2.0 0 1 0 4 0a2.0 2.0 0 1 0 -4 0M187.19 660.82a2.0 2.0 0 1 0 4 0a2.0 2.0 0 1 0 -4 0M189.73 659.88a2.0 2.0 0 1 0 4 0a2.0 2.0 0 1 0 -4 0M192.27 658.89a2.0 2.0 0 1 0 4 0a2.0 2.0 0 1 0 -4 0M194.81 657.82a2.0 2.0 0 1 0 4 0a2.0 2.0 0 1 0 -4 0M197.34 656.71a2.0 2.0 0 1 0 4 0a2.0 2.0 0 1 0 -4 0M199.88 655.57a2.0 2.0 0 1 0 4 0a2.0 2.0 0 1 0 -4 0M202.42 654.42a2.0 2.0 0 1 0 4 0a2.0 2.0 0 1 0 -4 0M204.96 653.27a2.0 2.0 0 1 0 4 0a2.0 2.0 0 1 0 -4 0M207.5 652.17a2.0 2.0 0 1 0 4 0a2.0 2.0 0 1 0 -4 0M210.03 651.15a2.0 2.0 0 1 0 4 0a2.0 2.0 0 1 0 -4 0M212.57 650.09a2.0 2.0 0 1 0 4 0a2.0 2.0 0 1 0 -4 0M215.11 648.87a2.0 2.0 0 1 0 4 0a2.0 2.0 0 1 0 -4 0M217.65 647.33a2.0 2.0 0 1 0 4 0a2.0 2.0 0 1 0 -4 0M220.19 645.18a2.0 2.0 0 1 0 4 0a2.0 2.0 0 1 0 -4 0M223.56 640.5a2.0 2.0 0 1 0 4 0a2.0 2.0 0 1 0 -4 0M226.22 634.9a2.0 2.0 0 1 0 4 0a2.0 2.0 0 1 0 -4 0M229.06 627.5a2.0 2.0 0 1 0 4 0a2.0 2.0 0 1 0 -4 0M232.44 618.11a2.0 2.0 0 1 0 4 0a2.0 2.0 0 1 0 -4 0M235.63 607.79a2.0 2.0 0 1 0 4 0a2.0 2.0 0 1 0 -4 0M237.76 598.06a2.0 2.0 0 1 0 4 0a2.0 2.0 0 1 0 -4 0M239 588.76a2.0 2.0 0 1 0 4 0a2.0 2.0 0 1 0 -4 0M241.13 579.68a2.0 2.0 0 1 0 4 0a2.0 2.0 0 1 0 -4 0M242.91 571.89a2.0 2.0 0 1 0 4 0a2.0 2.0 0 1 0 -4 0M244.33 564.32a2.0 2.0 0 1 0 4 0a2.0 2.0 0 1 0 -4 0M246.81 556.75a2.0 2.0 0 1 0 4 0a2.0 2.0 0 1 0 -4 0M250.19 549.18a2.0 2.0 0 1 0 4 0a2.0 2.0 0 1 0 -4 0M252.49 541.82a2.0 2.0 0 1 0 4 0a2.0 2.0 0 1 0 -4 0M254.8 535.12a2.0 2.0 0 1 0 4 0a2.0 2.0 0 1 0 -4 0M257.29 529.49a2.0 2.0 0 1 0 4 0a2.0 2.0 0 1 0 -4 0M259.59 524.52a2.0 2.0 0 1 0 4 0a2.0 2.0 0 1 0 -4 0M261.9 520.41a2.0 2.0 0 1 0 4 0a2.0 2.0 0 1 0 -4 0M264.21 516.95a2.0 2.0 0 1 0 4 0a2.0 2.0 0 1 0 -4 0M266.16 514.14a2.0 2.0 0 1 0 4 0a2.0 2.0 0 1 0 -4 0M267.76 511.54a2.0 2.0 0 1 0 4 0a2.0 2.0 0 1 0 -4 0M269.89 509.81a2.0 2.0 0 1 0 4 0a2.0 2.0 0 1 0 -4 0M272.73 509.16a2.0 2.0 0 1 0 4 0a2.0 2.0 0 1 0 -4 0" fill="none" stroke="#4646ff" stroke-width="0.85"/>
<rect x="215.4" y="472.9" width="86.3" height="19.4" rx="1" fill="#fff" stroke="#8e8e8e" stroke-width="1"/>
<circle cx="224.3" cy="478" r="2.1" fill="none" stroke="#4646ff" stroke-width="0.85"/>
<path d="M217.9 487.4h4.2m2.8 0h4.2" stroke="#ff5050" stroke-width="1.1"/>
<text x="232.4" y="481.1" class="lg">Test data</text>
<text x="232.4" y="489.6" class="lg">Curve fitting by model</text>
<path d="M380 683.6v-2.2M380 467.2v2.2M415.61 683.6v-2.2M415.61 467.2v2.2M451.23 683.6v-2.2M451.23 467.2v2.2M486.84 683.6v-2.2M486.84 467.2v2.2M522.46 683.6v-2.2M522.46 467.2v2.2M558.07 683.6v-2.2M558.07 467.2v2.2M593.69 683.6v-2.2M593.69 467.2v2.2M629.3 683.6v-2.2M629.3 467.2v2.2M380 683.6h2.2M629.3 683.6h-2.2M380 656.55h2.2M629.3 656.55h-2.2M380 629.5h2.2M629.3 629.5h-2.2M380 602.45h2.2M629.3 602.45h-2.2M380 575.4h2.2M629.3 575.4h-2.2M380 548.35h2.2M629.3 548.35h-2.2M380 521.3h2.2M629.3 521.3h-2.2M380 494.25h2.2M629.3 494.25h-2.2M380 467.2h2.2M629.3 467.2h-2.2" stroke="#7a7a7a" stroke-width="0.8" fill="none"/>
<rect x="380" y="467.2" width="249.3" height="216.4" fill="none" stroke="#8e8e8e" stroke-width="1.4"/>
<text x="380" y="694.2" text-anchor="middle" class="tl">180</text>
<text x="415.61" y="694.2" text-anchor="middle" class="tl">185</text>
<text x="451.23" y="694.2" text-anchor="middle" class="tl">190</text>
<text x="486.84" y="694.2" text-anchor="middle" class="tl">195</text>
<text x="522.46" y="694.2" text-anchor="middle" class="tl">200</text>
<text x="558.07" y="694.2" text-anchor="middle" class="tl">205</text>
<text x="593.69" y="694.2" text-anchor="middle" class="tl">210</text>
<text x="629.3" y="694.2" text-anchor="middle" class="tl">215</text>
<text x="376.9" y="686.3" text-anchor="end" class="tl">650</text>
<text x="376.9" y="659.25" text-anchor="end" class="tl">700</text>
<text x="376.9" y="632.2" text-anchor="end" class="tl">750</text>
<text x="376.9" y="605.15" text-anchor="end" class="tl">800</text>
<text x="376.9" y="578.1" text-anchor="end" class="tl">850</text>
<text x="376.9" y="551.05" text-anchor="end" class="tl">900</text>
<text x="376.9" y="524" text-anchor="end" class="tl">950</text>
<text x="376.9" y="496.95" text-anchor="end" class="tl">1000</text>
<text x="376.9" y="469.9" text-anchor="end" class="tl">1050</text>
<text x="504.65" y="705.2" text-anchor="middle" class="at">Temperature<tspan class="deg"> (℃)</tspan></text>
<text transform="translate(356 575.4) rotate(-90)" text-anchor="middle" class="ar">Resistance (kΩ)</text>
<polyline points="401.37,492.63 404.59,492.69 407.82,492.88 411.04,493.18 414.26,493.59 417.49,494.11 420.71,494.74 423.93,495.47 427.16,496.32 430.38,497.26 433.6,498.31 436.83,499.47 440.05,500.73 443.27,502.09 446.5,503.55 449.72,505.12 452.94,506.78 456.17,508.55 459.39,510.42 462.61,512.38 465.84,514.45 469.06,516.62 472.28,518.88 475.51,521.25 478.73,523.71 481.95,526.27 485.18,528.93 488.4,531.69 491.62,534.54 494.85,537.5 498.07,540.55 501.29,543.7 504.52,546.94 507.74,550.28 510.96,553.72 514.19,557.25 517.41,560.88 520.63,564.61 523.86,568.43 527.08,572.35 530.3,576.36 533.53,580.47 536.75,584.68 539.97,588.97 543.2,593.37 546.42,597.86 549.64,602.44 552.87,607.12 556.09,611.89 559.31,616.76 562.54,621.72 565.76,626.78 568.99,631.93 572.21,637.17 575.43,642.51 578.66,647.94 581.88,653.47 585.1,659.09 588.33,664.8 591.55,670.6" class="fit"/>
<path d="M408.63 491.71a2.0 2.0 0 1 0 4 0a2.0 2.0 0 1 0 -4 0M419.31 493.82a2.0 2.0 0 1 0 4 0a2.0 2.0 0 1 0 -4 0M427.86 497.01a2.0 2.0 0 1 0 4 0a2.0 2.0 0 1 0 -4 0M434.98 500.2a2.0 2.0 0 1 0 4 0a2.0 2.0 0 1 0 -4 0M443.53 504.1a2.0 2.0 0 1 0 4 0a2.0 2.0 0 1 0 -4 0M453.5 508.64a2.0 2.0 0 1 0 4 0a2.0 2.0 0 1 0 -4 0M462.05 513.73a2.0 2.0 0 1 0 4 0a2.0 2.0 0 1 0 -4 0M469.88 518.6a2.0 2.0 0 1 0 4 0a2.0 2.0 0 1 0 -4 0M477.72 523.3a2.0 2.0 0 1 0 4 0a2.0 2.0 0 1 0 -4 0M481.99 527.68a2.0 2.0 0 1 0 4 0a2.0 2.0 0 1 0 -4 0M483.42 532.39a2.0 2.0 0 1 0 4 0a2.0 2.0 0 1 0 -4 0M491.97 536.5a2.0 2.0 0 1 0 4 0a2.0 2.0 0 1 0 -4 0M500.51 541.21a2.0 2.0 0 1 0 4 0a2.0 2.0 0 1 0 -4 0M505.5 546.73a2.0 2.0 0 1 0 4 0a2.0 2.0 0 1 0 -4 0M511.91 552.68a2.0 2.0 0 1 0 4 0a2.0 2.0 0 1 0 -4 0M516.18 559.17a2.0 2.0 0 1 0 4 0a2.0 2.0 0 1 0 -4 0M519.74 565.77a2.0 2.0 0 1 0 4 0a2.0 2.0 0 1 0 -4 0M522.59 572.05a2.0 2.0 0 1 0 4 0a2.0 2.0 0 1 0 -4 0M526.16 578.43a2.0 2.0 0 1 0 4 0a2.0 2.0 0 1 0 -4 0M529.72 584.6a2.0 2.0 0 1 0 4 0a2.0 2.0 0 1 0 -4 0M532.57 590.76a2.0 2.0 0 1 0 4 0a2.0 2.0 0 1 0 -4 0M538.26 597.04a2.0 2.0 0 1 0 4 0a2.0 2.0 0 1 0 -4 0M541.83 603.64a2.0 2.0 0 1 0 4 0a2.0 2.0 0 1 0 -4 0M541.83 610.46a2.0 2.0 0 1 0 4 0a2.0 2.0 0 1 0 -4 0M548.95 617.87a2.0 2.0 0 1 0 4 0a2.0 2.0 0 1 0 -4 0M560.35 625.44a2.0 2.0 0 1 0 4 0a2.0 2.0 0 1 0 -4 0M566.04 633.56a2.0 2.0 0 1 0 4 0a2.0 2.0 0 1 0 -4 0M577.44 642.86a2.0 2.0 0 1 0 4 0a2.0 2.0 0 1 0 -4 0M583.85 651.36a2.0 2.0 0 1 0 4 0a2.0 2.0 0 1 0 -4 0M584.56 660.45a2.0 2.0 0 1 0 4 0a2.0 2.0 0 1 0 -4 0M589.55 669.37a2.0 2.0 0 1 0 4 0a2.0 2.0 0 1 0 -4 0" fill="none" stroke="#4646ff" stroke-width="0.85"/>
<rect x="537.1" y="472.6" width="86.1" height="20.1" rx="1" fill="#fff" stroke="#8e8e8e" stroke-width="1"/>
<circle cx="546" cy="477.7" r="2.1" fill="none" stroke="#4646ff" stroke-width="0.85"/>
<path d="M539.6 487.1h4.2m2.8 0h4.2" stroke="#ff5050" stroke-width="1.1"/>
<text x="554.1" y="480.8" class="lg">Test data</text>
<text x="554.1" y="489.3" class="lg">Curve fitting by model</text>
</svg>
</div>
</body></html>
